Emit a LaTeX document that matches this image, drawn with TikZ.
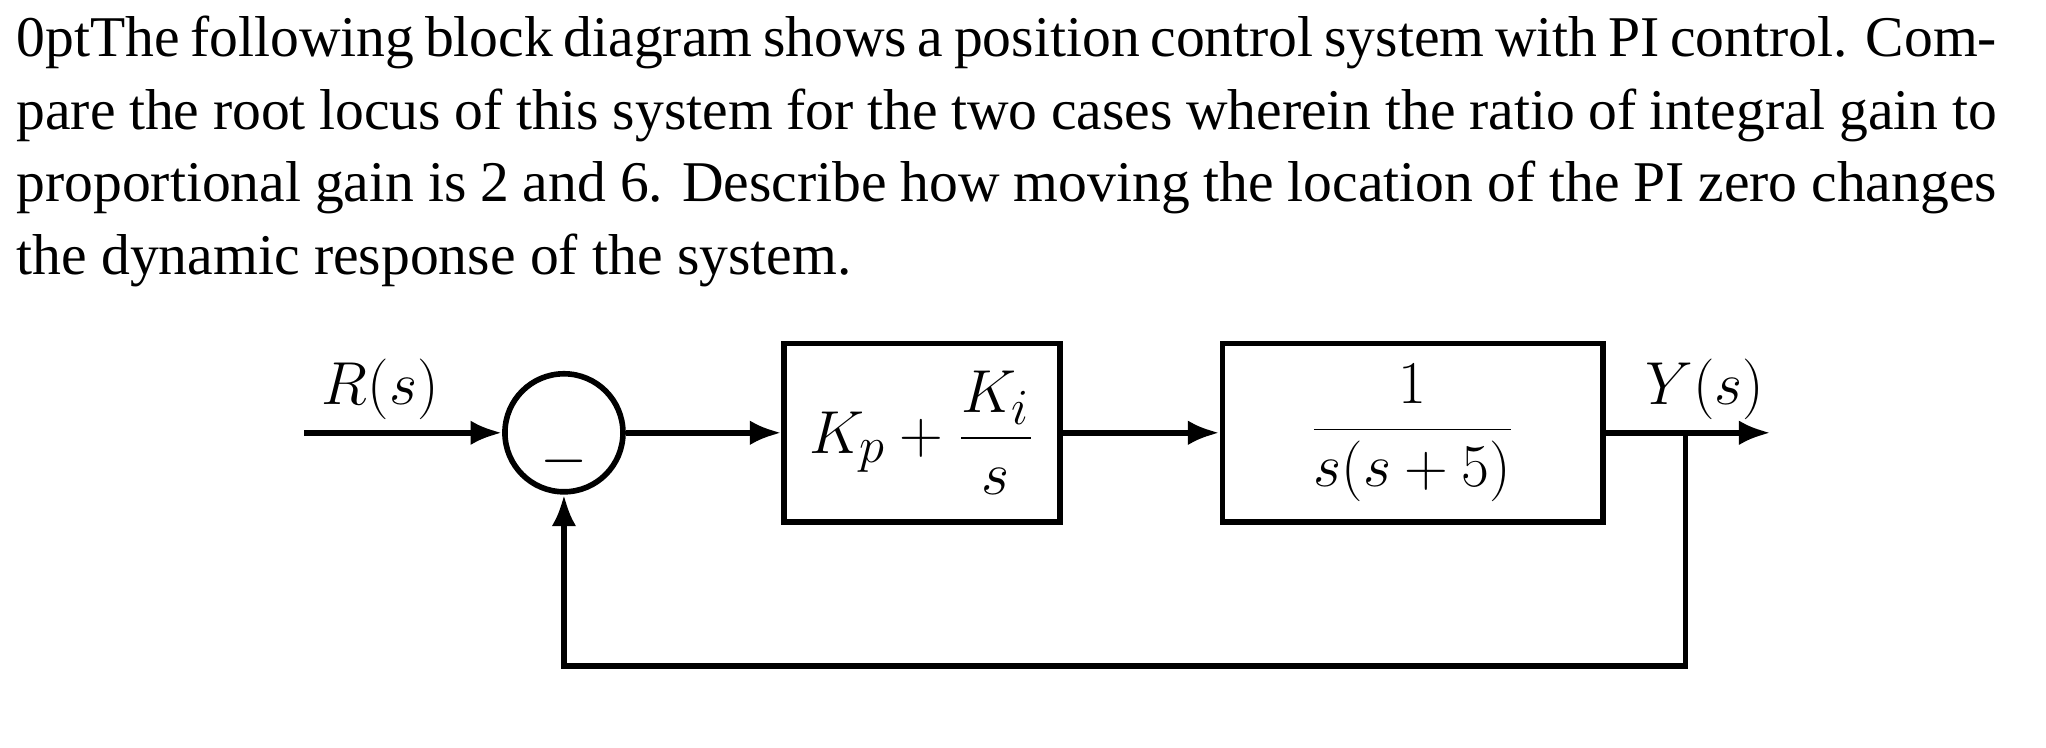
\documentclass[tikz,border=0pt]{standalone}
\usepackage{fontspec}
\setmainfont{Liberation Serif}
\usetikzlibrary{arrows.meta}
\begin{document}
\begin{tikzpicture}[x=0.013115cm,y=-0.013115cm,
  blk/.style={draw,line width=1.6pt,minimum width=#1*0.013115cm,minimum height=136*0.013115cm,inner sep=0},
  sig/.style={line width=1.6pt,-{Latex[length=9pt,width=7pt]}},
  lbl/.style={font=\fontsize{19}{22}\selectfont}]
\useasboundingbox (0,0) rectangle (1560,570);
\node[anchor=north west,text width=1510*0.013115cm,align=justify,inner sep=0,
  font=\fontsize{16.4}{20.6}\selectfont\hyphenpenalty=10000] (txt) at (12,12)
  {The following block diagram shows a position control system with PI control. Compare the root locus of this system for the two cases wherein the ratio of integral gain to proportional gain is 2 and 6. Describe how moving the location of the PI zero changes the dynamic response of the system.};
\coordinate (in) at (232,330);
\node[draw,circle,line width=1.6pt,minimum size=90*0.013115cm,inner sep=0] (sum) at (430,330) {};
\node[lbl] (minus) at (430,352) {$-$};
\node[blk=210] (c) at (703,330) {\fontsize{19}{22}\selectfont$\displaystyle K_p+\frac{K_i}{s}$};
\node[blk=290] (g) at (1077,330) {\fontsize{19}{22}\selectfont$\displaystyle\frac{1}{s(s+5)}$};
\coordinate (out) at (1350,330);
\coordinate (br) at (1285,330);
\coordinate (bd) at (1285,508);
\coordinate (bl) at (430,508);
\node[lbl] (R) at (290,297) {$R(s)$};
\node[lbl] (Y) at (1300,297) {$Y(s)$};
\draw[sig] (in) -- (sum.west);
\draw[sig] (sum.east) -- (c.west);
\draw[sig] (c.east) -- (g.west);
\draw[sig] (g.east) -- (out);
\draw[sig] (br) -- (bd) -- (bl) -- (sum.south);
\end{tikzpicture}
\end{document}
